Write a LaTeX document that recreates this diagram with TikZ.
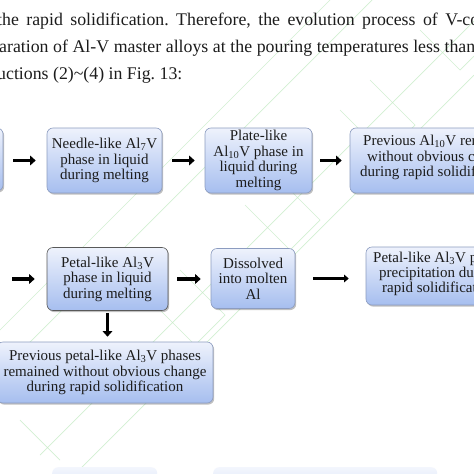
\documentclass[tikz,border=0pt]{standalone}
\usepackage{fontspec}
\setmainfont{Liberation Serif}
\usetikzlibrary{arrows.meta,shadows}
\frenchspacing
\definecolor{boxtop}{HTML}{EEF2FC}
\definecolor{boxbot}{HTML}{A6BEEF}
\definecolor{boxline}{HTML}{8C9CC0}
\definecolor{inkc}{HTML}{1C1C1C}
\definecolor{wmark}{HTML}{C4EBC4}
\tikzset{
  flowbox/.style={rounded corners=6pt, top color=boxtop, bottom color=boxbot,
    draw=boxline, line width=0.6pt, inner sep=0pt, text=inkc, align=center,
    font=\fontsize{15}{15.5}\selectfont,
    drop shadow={shadow xshift=1.2pt, shadow yshift=-1.6pt, opacity=0.35, fill=black!70}},
  fadedbox/.style={rounded corners=6pt, top color=boxtop!70!white, bottom color=boxbot!60!white,
    draw=none, inner sep=0pt},
  bigarrow/.style={line width=3.8pt, draw=black, -{Triangle[length=5.5pt, width=9.5pt]}},
  thinarrow/.style={line width=3pt, draw=black, -{Triangle[length=4.5pt, width=7.5pt]}},
  paratext/.style={anchor=base west, inner sep=0pt, text=inkc, font=\fontsize{17.8}{27}\selectfont},
  wm/.style={draw=wmark, line width=0.7pt, opacity=0.75}
}
\begin{document}
\begin{tikzpicture}[x=1pt, y=-1pt]
\useasboundingbox (0,0) rectangle (474,474);
\clip (0,0) rectangle (474,474);
\fill[white] (0,0) rectangle (474,474);

% watermark (faint outlines)
\draw[wm] (0,330) -- (330,0);
\draw[wm] (0,372) -- (372,0);
\draw[wm] (40,455) -- (474,21);
\draw[wm] (75,474) -- (474,75);
\draw[wm] (150,300) -- (195,345) -- (225,315) -- (180,270);
\draw[wm] (245,205) -- (290,250) -- (320,220) -- (275,175);
\draw[wm] (340,110) -- (385,155) -- (415,125) -- (370,80);
\draw[wm] (20,420) -- (60,460);
\draw[wm] (420,30) -- (460,70) -- (474,56);

% paragraph text
\node[paratext] (p1) at (-3,25) {\makebox[482pt][s]{the rapid solidification. Therefore, the evolution process of V-co}};
\node[paratext] (p2) at (-1,52) {\makebox[476pt][s]{aration of Al-V master alloys at the pouring temperatures less than}};
\node[paratext] (p3) at (-3,79) {uctions (2)\char`~(4) in Fig. 13:};

% row 1
\node[flowbox, minimum width=103pt, minimum height=63pt] (L0) at (-48.5,159.5) {};
\node[flowbox, minimum width=115pt, minimum height=65pt] (B2) at (104.5,160.5)
  {Needle-like Al\textsubscript{7}V\\phase in liquid\\during melting};
\node[flowbox, minimum width=107pt, minimum height=65pt] (B3) at (258.5,160.5)
  {Plate-like\\Al\textsubscript{10}V phase in\\liquid during\\melting};
\node[flowbox, minimum width=180pt, minimum height=65pt] (B4) at (440,160.5) {};
\node[anchor=north west, inner sep=0pt, align=left, text=inkc,
  font=\fontsize{15}{15.5}\selectfont] (B4t) at (360,135)
  {\hspace*{3pt}Previous Al\textsubscript{10}V rem\\\hspace*{7pt}without obvious ch\\during rapid solidif};

\draw[bigarrow, shorten <=10pt, shorten >=11pt] (L0.east |- B2.west) -- (B2.west);
\draw[bigarrow, shorten <=10pt, shorten >=10pt] (B2.east) -- (B3.west);
\draw[bigarrow, shorten <=8pt, shorten >=8pt] (B3.east) -- (B4.west);

% row 2
\coordinate (in2) at (12,279);
\node[flowbox, draw=black!65, minimum width=121pt, minimum height=63pt] (R1) at (107.5,279)
  {Petal-like Al\textsubscript{3}V\\phase in liquid\\during melting};
\node[flowbox, minimum width=84pt, minimum height=60pt] (R2) at (253,278.5)
  {Dissolved\\into molten\\Al};
\node[flowbox, minimum width=164pt, minimum height=58pt] (R3) at (448,276) {};
\node[anchor=north west, inner sep=0pt, align=left, text=inkc,
  font=\fontsize{15}{15}\selectfont] (R3t) at (373,252)
  {Petal-like Al\textsubscript{3}V ph\\\hspace*{6pt}precipitation du\\\hspace*{9pt}rapid solidificat};
\node[flowbox, minimum width=216pt, minimum height=61pt] (R4) at (105,372.5)
  {Previous petal-like Al\textsubscript{3}V phases\\remained without obvious change\\during rapid solidification};

\draw[bigarrow, shorten >=12pt] (in2) -- (in2 -| R1.west);
\draw[bigarrow, shorten <=9pt, shorten >=10pt] (R1.east) -- (R1.east -| R2.west);
\draw[thinarrow, shorten <=18pt, shorten >=17pt] (R2.east) -- (R2.east -| R3.west);
\draw[bigarrow, shorten <=2pt, shorten >=5pt] (R1.south) -- (R1.south |- R4.north);

% bottom faded boxes (tops only visible)
\node[fadedbox, minimum width=105pt, minimum height=40pt, anchor=north west] (F1) at (52,467) {};
\node[fadedbox, minimum width=224pt, minimum height=40pt, anchor=north west] (F2) at (213,467) {};
\end{tikzpicture}
\end{document}
